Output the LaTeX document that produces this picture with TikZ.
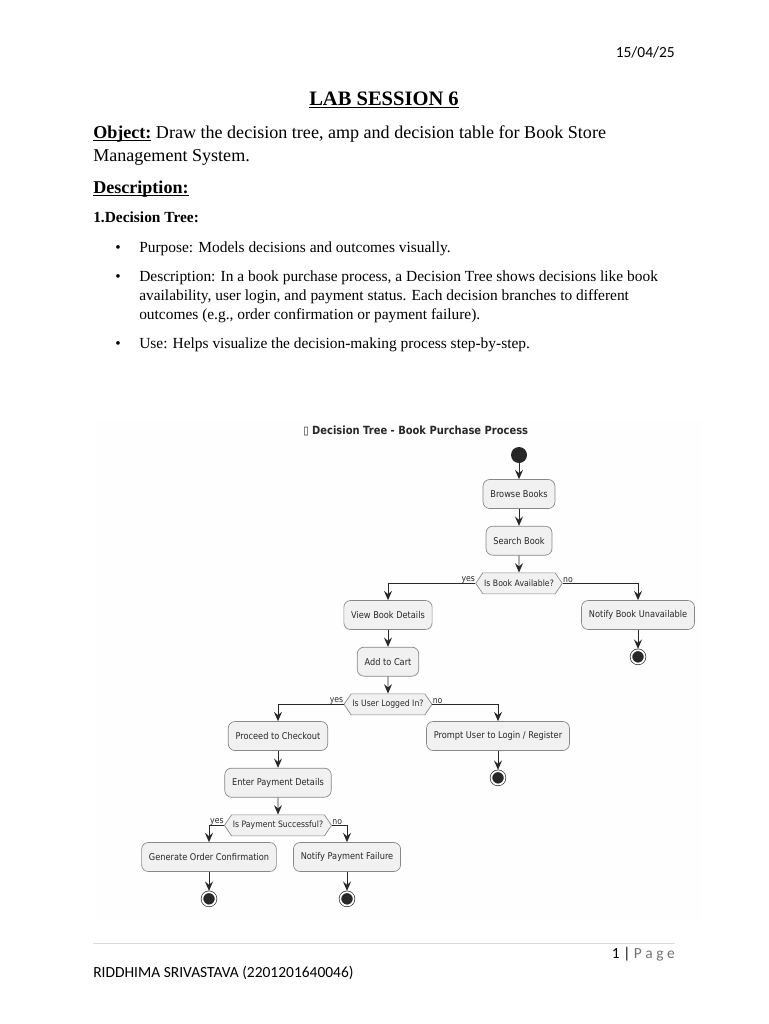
\documentclass[tikz,border=0pt]{standalone}
\usepackage{fontspec}
\setmainfont{Liberation Serif}
\newfontfamily\carlito{Carlito}
\newfontfamily\dejavu[FakeStretch=0.88]{DejaVu Sans}
\usetikzlibrary{arrows.meta,positioning,shapes.symbols}
\definecolor{boxfill}{RGB}{241, 241, 241}
\definecolor{boxline}{RGB}{135, 135, 135}
\definecolor{inkdark}{RGB}{40, 40, 40}
\definecolor{scanback}{RGB}{254, 254, 254}
\tikzset{
 pageline/.style={
 anchor=base west,
 inner sep=0pt,
 font=\fontsize{11.57pt}{13pt}\selectfont
 },
 bigline/.style={
 pageline,
 font=\fontsize{13.55pt}{15pt}\selectfont
 },
 footline/.style={
 inner sep=0pt,
 font=\carlito\fontsize{11.6pt}{13pt}\selectfont
 },
 actbox/.style={
 rectangle,
 rounded corners=5pt,
 draw=boxline,
 fill=boxfill,
 line width=0.5pt,
 align=center,
 inner xsep=5.5pt,
 inner ysep=0pt,
 minimum height=21.75pt,
 text=inkdark,
 font=\dejavu\fontsize{7pt}{8pt}\selectfont
 },
 testbox/.style={
 signal,
 signal to=east and west,
 signal pointer angle=112,
 draw=boxline,
 fill=boxfill,
 line width=0.5pt,
 inner xsep=1pt,
 inner ysep=0pt,
 minimum height=15.75pt,
 text=inkdark,
 font=\dejavu\fontsize{6.6pt}{7pt}\selectfont
 },
 startdot/.style={
 circle,
 fill=inkdark,
 inner sep=0pt,
 minimum size=12pt
 },
 enddot/.style={
 circle,
 draw=inkdark,
 fill=inkdark,
 double=white,
 double distance=1.3pt,
 line width=0.5pt,
 inner sep=0pt,
 minimum size=10pt,
 outer sep=1pt
 },
 guard/.style={
 inner sep=0pt,
 text=inkdark,
 font=\dejavu\fontsize{6.6pt}{7pt}\selectfont
 },
 flowarrow/.style={-{Stealth[length=7pt,width=6pt,inset=2.5pt]}, line width=0.7pt, draw=inkdark}
}
\begin{document}
\begin{tikzpicture}[x=0.75pt,y=-0.75pt,node distance=12.75pt]
 \useasboundingbox (0,0) rectangle (768,1024);
 \fill[scanback] (95,420) rectangle (702,920);

 \node[footline, anchor=base east] (date) at (675,58) {15/04/25};
 \node[pageline, anchor=base, font=\bfseries\fontsize{15.4pt}{17pt}\selectfont] (title) at (384,105) {\underline{\smash{LAB SESSION 6}}};
 \node[bigline] (object) at (93,138) {\underline{\smash{\textbf{Object:}}} Draw the decision tree, amp and decision table for Book Store};
 \node[bigline] (objecttwo) at (93,161) {Management System.};
 \node[bigline] (descr) at (93,193) {\underline{\smash{\textbf{Description:}}}};
 \node[pageline, font=\bfseries\fontsize{11.57pt}{13pt}\selectfont] (section) at (93,222) {1.Decision Tree:};
 \node[pageline] at (115,252) {•};
 \node[pageline] (purpose) at (139,252) {Purpose: Models decisions and outcomes visually.};
 \node[pageline] at (115,281) {•};
 \node[pageline] (descone) at (139,281) {Description: In a book purchase process, a Decision Tree shows decisions like book};
 \node[pageline] (desctwo) at (139,300) {availability, user login, and payment status. Each decision branches to different};
 \node[pageline] (descthree) at (139,319) {outcomes (e.g., order confirmation or payment failure).};
 \node[pageline] at (115,348) {•};
 \node[pageline] (use) at (139,348) {Use: Helps visualize the decision-making process step-by-step.};

 \node[pageline, inkdark, font=\dejavu\bfseries\fontsize{8.47pt}{10pt}\selectfont] (charttitle) at (303,434) {▯ Decision Tree - Book Purchase Process};

 \node[startdot] (start) at (519,455) {};
 \node[actbox] (browse) at (519,494) {Browse Books};
 \node[actbox, below=of browse] (search) {Search Book};
 \node[testbox, below=of search] (bookavail) {Is Book Available?};
 \node[actbox] (viewbook) at (388,615) {View Book Details};
 \node[actbox] (unavail) at (638,615) {Notify Book Unavailable};
 \node[enddot, below=14.25pt of unavail] (endbook) {};
 \node[actbox, below=of viewbook] (addcart) {Add to Cart};
 \node[testbox, below=of addcart] (loggedin) {Is User Logged In?};
 \node[actbox] (checkout) at (278,736) {Proceed to Checkout};
 \node[actbox] (prompt) at (498,736) {Prompt User to Login / Register};
 \node[enddot, below=14.25pt of prompt] (endlogin) {};
 \node[actbox, below=of checkout] (paydetails) {Enter Payment Details};
 \node[testbox, below=of paydetails] (paysuccess) {Is Payment Successful?};
 \node[actbox] (confirm) at (209,857) {Generate Order Confirmation};
 \node[actbox] (failure) at (347,857) {Notify Payment Failure};
 \node[enddot, below=14.25pt of confirm] (endconfirm) {};
 \node[enddot, below=14.25pt of failure] (endfailure) {};

 \draw[flowarrow] (start) -- (browse);
 \draw[flowarrow] (browse) -- (search);
 \draw[flowarrow] (search) -- (bookavail);
 \draw[flowarrow] (bookavail.west) -| node[guard, pos=0, anchor=south east] {yes} (viewbook.north);
 \draw[flowarrow] (bookavail.east) -| node[guard, pos=0, anchor=south west] {no} (unavail.north);
 \draw[flowarrow] (viewbook) -- (addcart);
 \draw[flowarrow] (unavail) -- (endbook);
 \draw[flowarrow] (addcart) -- (loggedin);
 \draw[flowarrow] (loggedin.west) -| node[guard, pos=0, anchor=south east] {yes} (checkout.north);
 \draw[flowarrow] (loggedin.east) -| node[guard, pos=0, anchor=south west] {no} (prompt.north);
 \draw[flowarrow] (checkout) -- (paydetails);
 \draw[flowarrow] (prompt) -- (endlogin);
 \draw[flowarrow] (paydetails) -- (paysuccess);
 \draw[flowarrow] (paysuccess.west) -| node[guard, pos=0, anchor=south east] {yes} (confirm.north);
 \draw[flowarrow] (paysuccess.east) -| node[guard, pos=0, anchor=south west] {no} (failure.north);
 \draw[flowarrow] (confirm) -- (endconfirm);
 \draw[flowarrow] (failure) -- (endfailure);

 \draw[black!15, line width=0.6pt] (93,943) -- (675,943);
 \node[footline, anchor=base east] (pagenum) at (675,958) {1 | \textcolor{black!55}{P a g e}};
 \node[footline, anchor=base west] (student) at (93,977) {RIDDHIMA SRIVASTAVA (2201201640046)};
\end{tikzpicture}
\end{document}
